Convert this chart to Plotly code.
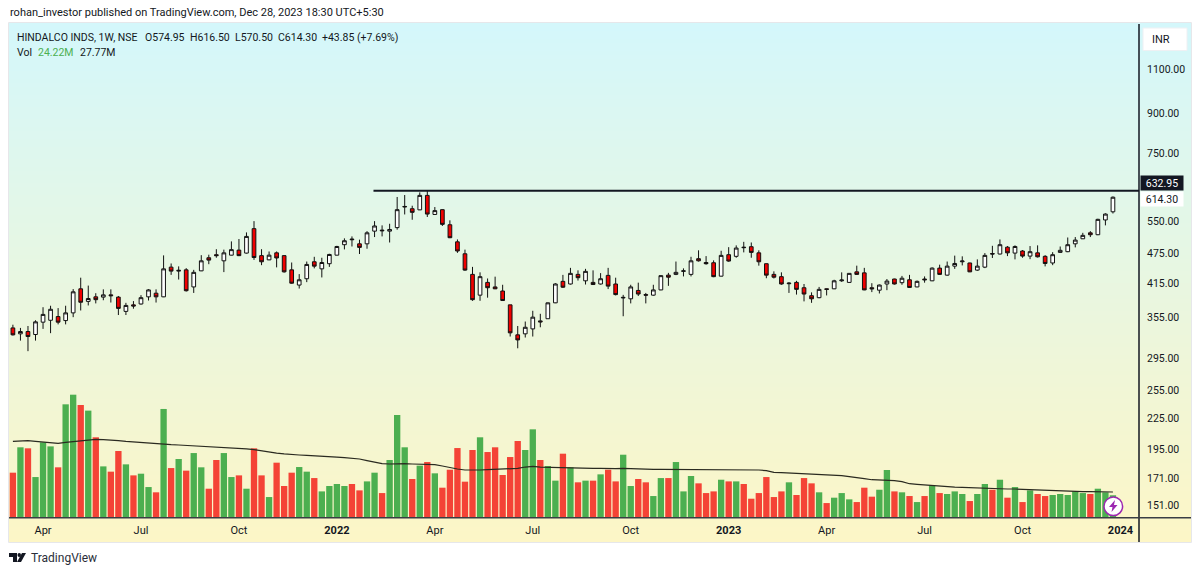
import pandas as pd
import plotly.graph_objects as go

W, H = 1200, 574
FONT = "Roboto"
INK = "#131722"

weeks = pd.date_range("2021-03-08", periods=147, freq="7D")

opens = [339, 330, 333.5, 329, 348, 351, 357, 350.5, 363, 405,
         382.5, 390.5, 390, 394, 390, 365.5, 376.5, 378, 390.5, 397,
         390.5, 447, 439, 441.5, 408.5, 439.5, 466.5, 473, 460, 472,
         483, 476.5, 532.5, 471, 462, 477, 471, 441.5, 412, 424,
         458, 443.5, 454, 472, 495, 508, 497, 497, 526.5, 529,
         526.5, 535, 587.5, 583, 580, 619.5, 568, 580.5, 542, 501.5,
         475, 432.5, 393.5, 417, 408.5, 401, 376.5, 328.5, 330, 337.5,
         350, 353.5, 380, 419, 414, 432.5, 420, 417, 414, 430.5,
         414, 388.5, 387, 402, 394.5, 393.5, 403, 431, 432.5, 438.5,
         432.5, 464.5, 456.5, 456, 429, 473, 469.5, 489.5, 490.5, 477,
         454, 432.5, 428, 414.5, 417, 407, 392.5, 389, 405, 405,
         420, 417, 437.5, 435.5, 407, 402.5, 414, 423.5, 416.5, 422,
         408.5, 423.5, 420, 445, 431, 449, 458, 455.5, 441, 447,
         475.5, 474.5, 489.5, 476.5, 481, 470, 477, 469.5, 455.5, 478,
         479.5, 497, 508.5, 522.5, 518, 554, 574.95]
highs = [344, 339, 342, 351, 372.5, 375, 371, 375, 404.5, 426,
         411, 397, 404, 404, 392, 380, 383, 393.5, 404.5, 404,
         471.5, 454.5, 448.5, 445, 441.5, 472, 473, 485, 484, 502.5,
         508, 523.5, 551, 485, 480, 480, 471.5, 456.5, 433, 458.5,
         468.5, 466.5, 475, 492.5, 509.5, 514, 506.5, 526.5, 551, 540.5,
         544.5, 615, 620.5, 591, 628, 632.95, 587.5, 581.5, 553, 507,
         484, 447.5, 436.5, 424.5, 428, 412.5, 376.5, 342, 349, 366.5,
         361.5, 380.5, 415.5, 431.5, 445.5, 440.5, 443.5, 440.5, 435, 445.5,
         426, 394, 412.5, 416.5, 397.5, 412.5, 430.5, 435.5, 458.5, 444.5,
         468.5, 482.5, 470, 461, 481.5, 489.5, 493.5, 501.5, 500, 482.5,
         454.5, 438.5, 436.5, 417.5, 420, 414, 398.5, 408.5, 405.5, 422,
         436.5, 435, 450, 445.5, 415.5, 413, 423.5, 424, 429.5, 431.5,
         420.5, 428.5, 446.5, 452, 458.5, 471, 469.5, 456, 463, 476.5,
         492.5, 507, 492, 493.5, 483, 492, 493.5, 472, 478.5, 491,
         511.5, 512.5, 522.5, 526.5, 557, 571, 616.5]
lows = [327.5, 320, 305, 320, 337.5, 331, 344.5, 344.5, 356, 367,
        375.5, 379, 384.5, 380.5, 359.5, 359.5, 370, 377, 384, 380.5,
        390, 431.5, 422.5, 400, 397.5, 439, 453, 466.5, 437, 471.5,
        470, 475.5, 462, 451, 461.5, 446.5, 436, 414.5, 405.5, 417.5,
        444.5, 426.5, 447.5, 471.5, 484.5, 491, 474.5, 486, 512.5, 514,
        500, 530, 568, 554.5, 579.5, 561.5, 567.5, 539, 510, 477,
        439.5, 383.5, 383.5, 389, 404.5, 383.5, 326, 309, 324.5, 326,
        340, 353.5, 379.5, 406.5, 413, 420.5, 413, 412.5, 413, 404.5,
        393, 357.5, 379, 392, 379, 392.5, 402.5, 410.5, 431, 428.5,
        428.5, 458.5, 452, 427, 428.5, 458, 466.5, 478, 466.5, 450,
        425, 424.5, 412.5, 397.5, 394.5, 382.5, 380, 388, 393, 404.5,
        418, 416.5, 431.5, 402.5, 399, 396.5, 402.5, 413, 412.5, 406.5,
        408, 416.5, 419.5, 431.5, 430, 443.5, 450.5, 437, 439.5, 445,
        466, 473.5, 470, 463, 466.5, 463.5, 467, 448.5, 451, 477,
        478.5, 489, 508, 512.5, 517, 540.5, 570.5]
closes = [328.5, 333.5, 326, 348.5, 360.5, 369, 348, 363, 399.5, 381,
          387.5, 385.5, 394, 392.5, 370.5, 375.5, 374.5, 389, 403, 390.5,
          443.5, 439, 440.5, 401.5, 436.5, 460, 461.5, 471, 477, 484,
          471, 514, 467, 458, 472, 466, 437.5, 415.5, 422, 452.5,
          449, 456.5, 473.5, 491, 504, 506.5, 489, 522.5, 539, 527.5,
          530.5, 580.5, 589, 573.5, 619.5, 569, 578, 543, 511, 481,
          441, 385.5, 428, 407, 405, 384, 331.5, 321, 340, 356,
          348.5, 380, 414, 408, 434.5, 426, 438.5, 413, 424, 410,
          394.5, 389.5, 408.5, 395.5, 393.5, 403, 430, 427, 436.5, 439.5,
          460, 460, 454, 428, 471.5, 459.5, 487.5, 488.5, 478, 458,
          431, 427, 414, 415.5, 404, 395.5, 387, 404, 404, 420,
          421.5, 434.5, 432.5, 403, 405, 412, 419.5, 414, 425, 407.5,
          419, 422, 445, 432.5, 449, 454.5, 459.5, 437.5, 449, 471.5,
          474.5, 495, 477, 491, 470, 479.5, 468.5, 454.5, 473, 482.5,
          495, 505.5, 516.5, 518, 555.5, 569, 614.3]

# volume in millions
volumes = [48.6, 76, 74.9, 43.9, 81.4, 77, 54.4, 122.4, 132.8, 121.7,
           115.6, 86.8, 55.4, 49.7, 72, 57.6, 45.7, 47.5, 33.1, 27.4,
           117.4, 53.6, 63.4, 50.8, 69.8, 54.4, 31.3, 62.3, 69.8, 43.9,
           45.7, 31.3, 74.9, 45.7, 22.3, 59.4, 34.2, 48.6, 54.7, 49.7,
           42.8, 28.4, 34.2, 36.4, 34.2, 36.4, 29.5, 39.2, 48.6, 26.6,
           62.3, 110.9, 76, 41.8, 56.2, 60.1, 47.9, 32.4, 51.8, 75.2,
           38.9, 73.1, 86.8, 70.9, 76, 46.1, 65.5, 82.8, 73.1, 95.4,
           62.3, 55.8, 40, 69.1, 54.4, 38.2, 40, 40, 46.8, 51.8,
           39.2, 68, 34.2, 41.8, 38.2, 23.4, 42.8, 42.8, 60.1, 28.4,
           45, 37.1, 26.6, 28.4, 41, 39.2, 39.2, 36.4, 20.5, 26.6,
           43.9, 22.3, 28.4, 38.2, 24.5, 42.8, 37.1, 27.4, 15.8, 21.6,
           26.6, 19.8, 16.9, 32.4, 22.7, 30.2, 51.5, 28.4, 27.4, 23.4,
           16.9, 23.4, 34.9, 26.6, 25.6, 28.4, 25.6, 18, 25.6, 36.4,
           30.2, 41, 21.6, 33.1, 16.9, 29.5, 25.6, 23.4, 24.5, 25.6,
           24.5, 28.4, 26.6, 25.6, 31.3, 27.4, 24.22]
volume_ma = [82.4, 82.8, 83.2, 82.4, 81.7, 81.4, 80.3, 81.4, 82.1, 82.8,
             83.9, 84.6, 84.2, 83.9, 83.2, 82.4, 81.7, 81.4, 80.6, 79.6,
             79.2, 78.8, 78.5, 78.1, 77.8, 77.4, 76.3, 76, 75.6, 75.2,
             74.9, 74.2, 73.4, 72, 70.9, 69.8, 68.8, 68, 67.7, 67.3,
             67, 66.6, 65.9, 65.5, 64.8, 64.4, 63.4, 61.6, 60.1, 58.3,
             58, 58.3, 58.3, 58, 58, 58, 57.2, 55.8, 54, 52.6,
             51.5, 51.1, 51.5, 51.8, 52.2, 52.2, 52.6, 53.3, 54.7, 55.4,
             54.7, 54.4, 54.4, 54.4, 54, 53.6, 53.6, 53.3, 53.3, 52.9,
             52.9, 53.3, 52.9, 52.9, 52.9, 52.2, 52.2, 52.2, 52.2, 51.8,
             51.8, 51.8, 51.8, 51.8, 51.8, 51.8, 51.8, 51.5, 51.5, 51.5,
             50.8, 49, 48.6, 48.2, 47.9, 47.5, 47.5, 47.2, 46.4, 46.1,
             45.4, 44.3, 42.8, 42.1, 41, 40.7, 40.3, 40, 38.9, 36.7,
             36, 35.3, 34.9, 33.8, 33.5, 33.1, 32.8, 32.4, 32, 31.7,
             31.3, 31, 31, 31, 30.6, 30.6, 30.2, 29.5, 29.2, 28.8,
             28.8, 28.4, 28.1, 28.1, 28.1, 27.7, 27.77]

resistance = 632.95
resistance_start = "2022-02-06"
x_range = ["2021-03-04 09:00", "2024-01-18 05:00"]

price_ticks = [1100, 900, 750, 550, 475, 415, 355, 295, 255, 225, 195, 171, 151]
date_ticks = ["2021-04-05", "2021-07-05", "2021-10-04", "2022-01-03", "2022-04-04", "2022-07-04",
              "2022-10-03", "2023-01-02", "2023-04-03", "2023-07-03", "2023-10-02", "2024-01-01"]
date_labels = ["Apr", "Jul", "Oct", "<b>2022</b>", "Apr", "Jul",
               "Oct", "<b>2023</b>", "Apr", "Jul", "Oct", "<b>2024</b>"]


def px(x):
    return x / W


def py(y):
    return 1 - y / H


def mix(c1, c2, t):
    return "rgb(%d,%d,%d)" % tuple(round(a + (b - a) * t) for a, b in zip(c1, c2))


def poly(points):
    return "M " + " L ".join(f"{px(x):.5f},{py(y):.5f}" for x, y in points) + " Z"


shapes = []

# panel background gradient, TradingView style
top_c, bot_c = (212, 247, 251), (253, 246, 198)
strip = 4
for y in range(23, 542, strip):
    shapes.append(dict(type="rect", xref="paper", yref="paper", layer="below",
                       x0=px(9), x1=px(1191), y0=py(y), y1=py(min(y + strip, 542)),
                       fillcolor=mix(top_c, bot_c, (y - 23) / 519), line_width=0))
shapes.append(dict(type="rect", xref="paper", yref="paper", layer="below", x0=px(8.5), x1=px(1191.5),
                   y0=py(22.5), y1=py(542.5), line=dict(color="#e6e7ea", width=1)))
shapes.append(dict(type="line", xref="paper", yref="paper", x0=px(1139), x1=px(1139), y0=py(24), y1=py(542),
                   line=dict(color=INK, width=1.5)))
shapes.append(dict(type="line", xref="paper", yref="paper", x0=px(9), x1=px(1191), y0=py(517.7), y1=py(517.7),
                   line=dict(color="#3a3d44", width=1.5)))

# INR button
shapes.append(dict(type="rect", xref="paper", yref="paper", x0=px(1143), x1=px(1187), y0=py(28), y1=py(50.5),
                   fillcolor="white", line=dict(color="#eef0f3", width=1)))

# TradingView logo
shapes.append(dict(type="path", xref="paper", yref="paper", path=poly(
    [(9, 553), (17, 553), (17, 562), (13, 562), (13, 557), (9, 557)]), fillcolor=INK, line_width=0))
shapes.append(dict(type="circle", xref="paper", yref="paper", x0=px(17.5), x1=px(21), y0=py(553), y1=py(557),
                   fillcolor=INK, line_width=0))
shapes.append(dict(type="path", xref="paper", yref="paper", path=poly(
    [(22, 553), (26, 553), (21, 562), (17, 562)]), fillcolor=INK, line_width=0))

# lightning badge
shapes.append(dict(type="circle", xref="paper", yref="paper", x0=px(1104), x1=px(1122.6), y0=py(497), y1=py(515.6),
                   fillcolor="white", line=dict(color="#9c27b0", width=1.5)))
shapes.append(dict(type="path", xref="paper", yref="paper", path=poly(
    [(1115, 500), (1109, 507), (1112.5, 507), (1111.5, 512), (1117.5, 505), (1114, 505)]),
    fillcolor="#9c27b0", line_width=0))

bar_colors = ["#4caf50" if c >= o else "#f44336" for o, c in zip(opens, closes)]

fig = go.Figure()
fig.add_trace(go.Bar(x=weeks, y=volumes, yaxis="y2", marker=dict(color=bar_colors, line_width=0), showlegend=False))
fig.add_trace(go.Scatter(x=weeks, y=volume_ma, yaxis="y2", mode="lines", line=dict(color="#2a2a20", width=1.2),
                         showlegend=False))
fig.add_trace(go.Candlestick(x=weeks, open=opens, high=highs, low=lows, close=closes, whiskerwidth=0,
                             increasing=dict(line=dict(color="#111111", width=1), fillcolor="white"),
                             decreasing=dict(line=dict(color="#111111", width=1), fillcolor="#f00000"),
                             showlegend=False))
fig.add_trace(go.Scatter(x=[resistance_start, x_range[1]], y=[resistance, resistance], mode="lines",
                         line=dict(color="#131722", width=2), showlegend=False))


def label(x, y, text, size=10.5, color=INK, anchor="left", **kw):
    return dict(xref="paper", yref="paper", x=px(x), y=py(y), text=text, showarrow=False, xanchor=anchor,
                yanchor="middle", font=dict(family=FONT, size=size, color=color), borderpad=0, **kw)


annotations = [
    label(9, 12, "rohan_investor published on TradingView.com, Dec 28, 2023 18:30 UTC+5:30", size=11),
    label(16, 37, "HINDALCO INDS, 1W, NSE"),
    label(144, 37, "O574.95"),
    label(189, 37, "H616.50"),
    label(234, 37, "L570.50"),
    label(277, 37, "C614.30"),
    label(321, 37, "+43.85 (+7.69%)"),
    label(16, 52, "Vol"),
    label(37, 52, "24.22M", color="#4caf50"),
    label(79, 52, "27.77M"),
    label(1151, 40, "INR", size=11),
    label(30, 558, "TradingView", size=12, color="#2a2e39"),
    label(1139.5, 183, "632.95", color="white", bgcolor=INK, width=42, height=14),
    label(1139.5, 198.5, "614.30", color=INK, bgcolor="white", width=42, height=14),
]

fig.update_layout(
    width=W, height=H, margin=dict(l=0, r=0, t=0, b=0), paper_bgcolor="white", plot_bgcolor="rgba(0,0,0,0)",
    bargap=0.16, shapes=shapes, annotations=annotations, showlegend=False,
    font=dict(family=FONT, size=11, color=INK),
    xaxis=dict(domain=[px(9), px(1139)], range=x_range, type="date", rangeslider_visible=False, showgrid=False,
               tickmode="array", tickvals=date_ticks, ticktext=date_labels, ticks="outside", ticklen=2,
               tickcolor="rgba(0,0,0,0)", tickfont=dict(size=11), showline=False, zeroline=False, anchor="y"),
    yaxis=dict(domain=[py(517.7), py(24)], type="log", range=[2.1553, 3.1306], side="right", showgrid=False,
               tickmode="array", tickvals=price_ticks, ticktext=[f"{v:.2f}" for v in price_ticks], ticks="",
               tickfont=dict(size=10.5), ticklabelstandoff=7, showline=False, zeroline=False, anchor="x"),
    yaxis2=dict(domain=[py(517.7), py(24)], range=[0, 533], overlaying="y", visible=False, anchor="x"),
)

# browser default body margin would shift the picture
fig.write_html("out.html", config=dict(displayModeBar=False), post_script="document.body.style.margin='0';")
